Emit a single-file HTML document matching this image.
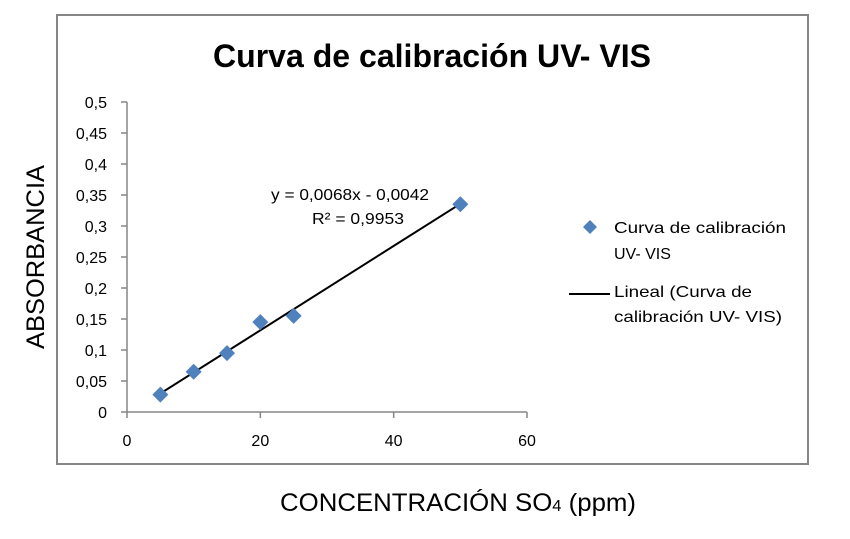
<!DOCTYPE html>
<html><head><meta charset="utf-8"><style>
body{margin:0;background:#fff;width:850px;height:539px;overflow:hidden}
svg{display:block;font-family:"Liberation Sans",sans-serif}
</style></head><body>
<svg id="chart" width="850" height="539" viewBox="0 0 850 539">
<rect x="57" y="15" width="751" height="449" fill="#fff" stroke="#868686" stroke-width="2"/>
<text x="432" y="67" text-anchor="middle" font-size="32" font-weight="bold" fill="#000" textLength="438" lengthAdjust="spacingAndGlyphs">Curva de calibración UV- VIS</text>
<g id="axes"></g>
<g id="marks"></g>
<text x="350" y="200" text-anchor="middle" font-size="16" textLength="158" lengthAdjust="spacingAndGlyphs">y = 0,0068x - 0,0042</text>
<text x="358" y="224" text-anchor="middle" font-size="16" textLength="92" lengthAdjust="spacingAndGlyphs">R² = 0,9953</text>
<text transform="translate(44,257) rotate(-90)" text-anchor="middle" font-size="25" textLength="184" lengthAdjust="spacingAndGlyphs">ABSORBANCIA</text>
<text x="458" y="511" text-anchor="middle" font-size="25" textLength="356" lengthAdjust="spacingAndGlyphs">CONCENTRACIÓN SO<tspan font-size="16">4</tspan> (ppm)</text>
<g>
<path d="M590 220 l7 7 l-7 7 l-7 -7z" fill="#4f81bd"/>
<text font-size="16"><tspan x="614" y="233" textLength="172" lengthAdjust="spacingAndGlyphs">Curva de calibración</tspan><tspan x="614" y="259">UV- VIS</tspan></text>
<line x1="569" y1="294" x2="610" y2="294" stroke="#000" stroke-width="2"/>
<text font-size="16"><tspan x="614" y="297" textLength="138" lengthAdjust="spacingAndGlyphs">Lineal (Curva de</tspan><tspan x="614" y="322" textLength="168" lengthAdjust="spacingAndGlyphs">calibración UV- VIS)</tspan></text>
</g>
</svg>
<script>
const xValues=[5,10,15,20,25,50];
const yValues=[0.028,0.065,0.095,0.145,0.155,0.335];
const slope=0.0068, intercept=-0.0042;
const xTicks=[0,20,40,60];
const yTicks=[0,0.05,0.1,0.15,0.2,0.25,0.3,0.35,0.4,0.45,0.5];
const NS="http://www.w3.org/2000/svg";
const X0=127,X1=527,Y0=412,Y1=102;
const sx=v=>X0+(v-0)/(60-0)*(X1-X0);
const sy=v=>Y0-(v-0)/(0.5-0)*(Y0-Y1);
function mk(tag,attrs,parent){const e=document.createElementNS(NS,tag);for(const k in attrs)e.setAttribute(k,attrs[k]);parent.appendChild(e);return e;}
const axes=document.getElementById('axes'),marks=document.getElementById('marks');
let a=mk('line',{x1:X0,y1:Y0,x2:X1,y2:Y0,stroke:'#868686','stroke-width':1.5},axes);


a=mk('line',{x1:X0,y1:Y0,x2:X0,y2:Y1,stroke:'#868686','stroke-width':1.5},axes);


xTicks.forEach(t=>{
 const tk=mk('line',{x1:sx(t),y1:Y0,x2:sx(t),y2:Y0+6,stroke:'#868686','stroke-width':1.5},axes);
 
 
 const tx=mk('text',{x:sx(t),y:Y0+34,'text-anchor':'middle','font-size':16},axes);
 tx.textContent=String(t);
 
 
});
yTicks.forEach(t=>{
 const tk=mk('line',{x1:X0-6,y1:sy(t),x2:X0,y2:sy(t),stroke:'#868686','stroke-width':1.5},axes);
 
 
 const tx=mk('text',{x:X0-20,y:sy(t)+6,'text-anchor':'end','font-size':16},axes);
 tx.textContent=String(t).replace('.',',');
 
 
});
const xa=Math.min(...xValues),xb=Math.max(...xValues);
const tl=mk('line',{x1:sx(xa),y1:sy(slope*xa+intercept),x2:sx(xb),y2:sy(slope*xb+intercept),stroke:'#000','stroke-width':2},marks);


xValues.forEach((x,i)=>{
 const cx=sx(x),cy=sy(yValues[i]);
 const p=mk('path',{d:`M${cx} ${cy-8} L${cx+8} ${cy} L${cx} ${cy+8} L${cx-8} ${cy}Z`,fill:'#4f81bd'},marks);
 
 
});
</script>
</body></html>
